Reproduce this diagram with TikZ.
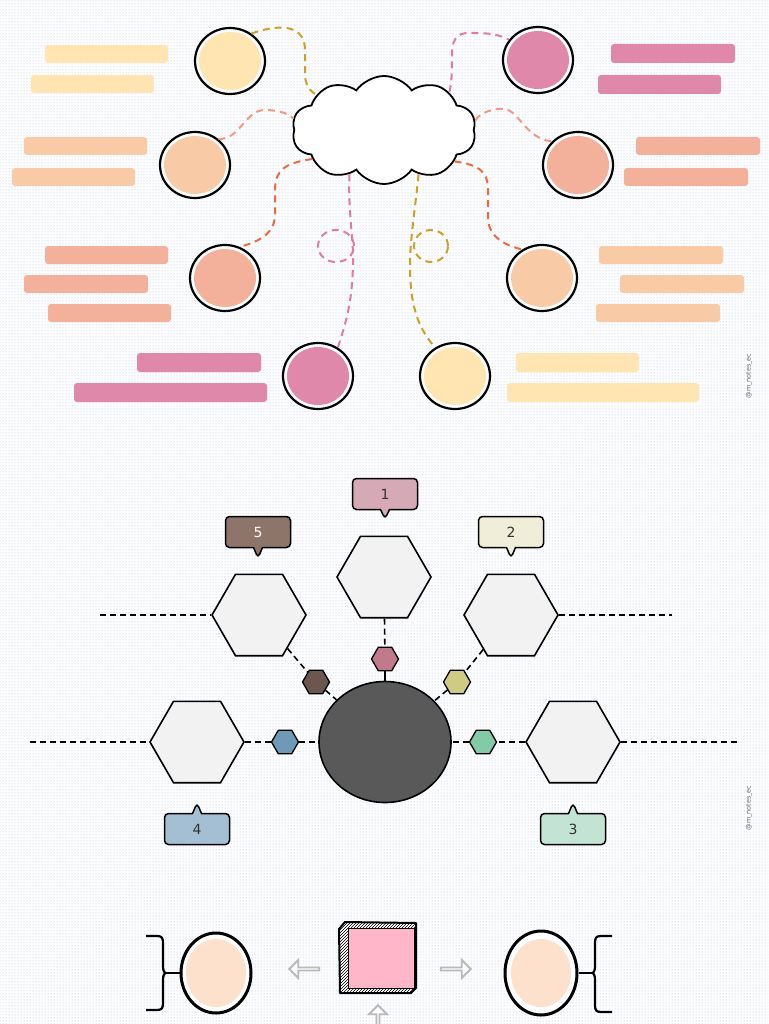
\documentclass[tikz,border=0pt]{standalone}
\usepackage{fontspec}
\setmainfont{DejaVu Sans}
\usetikzlibrary{shapes.geometric,shapes.symbols,shapes.callouts,shapes.arrows,patterns}
\definecolor{cYel}{HTML}{FFE5B2}
\definecolor{cPea}{HTML}{F8CBA6}
\definecolor{cSal}{HTML}{F3B19C}
\definecolor{cPnk}{HTML}{E088A9}
\definecolor{lGold}{HTML}{CFA022}
\definecolor{lPea}{HTML}{F49A7C}
\definecolor{lOra}{HTML}{EE6A3C}
\definecolor{lPnk}{HTML}{E07BA3}
\definecolor{hexfill}{HTML}{F2F2F2}
\definecolor{ellfill}{HTML}{595959}
\definecolor{sPnk}{HTML}{C07A8C}
\definecolor{sBrn}{HTML}{6B5650}
\definecolor{sOli}{HTML}{CFCB82}
\definecolor{sBlu}{HTML}{6E9AB8}
\definecolor{sGrn}{HTML}{82CBA6}
\definecolor{k1c}{HTML}{D5A9B6}
\definecolor{k2c}{HTML}{F0EED8}
\definecolor{k3c}{HTML}{C3E4D5}
\definecolor{k4c}{HTML}{A4BFD3}
\definecolor{k5c}{HTML}{8E7569}
\definecolor{txt}{HTML}{333333}
\definecolor{bPeach}{HTML}{FDE1CC}
\definecolor{boxPink}{HTML}{FFB6C8}
\definecolor{dotcol}{HTML}{A9BAE6}
\begin{document}
\begin{tikzpicture}[x=1pt,y=-1pt,
  bar/.style={rounded corners=3pt},
  blob/.style={ellipse, draw=black, line width=2.2pt, fill=white, minimum width=70pt, minimum height=66pt, inner sep=0pt,
    path picture={\fill[#1] (path picture bounding box.center) ellipse (31pt and 29pt);}},
  bblob/.style={ellipse, draw=black, line width=3pt, fill=white, inner sep=0pt,
    path picture={\fill[#1] (path picture bounding box.center) ellipse (30pt and 34pt);}},
  cdash/.style={line width=2pt, dash pattern=on 7pt off 5pt},
  dsh/.style={line width=1.6pt, dash pattern=on 6pt off 4pt},
  hex/.style={regular polygon, regular polygon sides=6, draw, line width=1.6pt, fill=hexfill, minimum size=94pt, inner sep=0pt},
  shex/.style={regular polygon, regular polygon sides=6, draw, line width=1.3pt, fill=#1, minimum size=27pt, inner sep=0pt},
  callbox/.style={rectangle callout, draw, line width=1.5pt, rounded corners=4pt, fill=#1, minimum width=65pt, minimum height=31pt, callout pointer width=9pt, font=\fontsize{14}{16}\selectfont, text=txt, inner sep=0pt},
  garrow/.style={single arrow, draw=gray!55, line width=1.8pt, fill=white, minimum height=30pt, minimum width=18pt, single arrow head extend=4.5pt, inner sep=0pt},
  wmark/.style={rotate=90, font=\fontsize{6.5}{7}\selectfont, text=gray!80!black}
]
\useasboundingbox (0,0) rectangle (768,1024);
\fill[white] (0,0) rectangle (768,1024);
\fill[pattern=dots, pattern color=dotcol] (0,0) rectangle (768,1024);

% ---------- top section: bars ----------
\fill[bar,cYel] (45,45) rectangle (168,63);
\fill[bar,cYel] (31,75) rectangle (154,93);
\fill[bar,cPea] (24,137) rectangle (147,155);
\fill[bar,cPea] (12,168) rectangle (135,186);
\fill[bar,cSal] (45,246) rectangle (168,264);
\fill[bar,cSal] (24,275) rectangle (148,293);
\fill[bar,cSal] (48,304) rectangle (171,322);
\fill[bar,cPnk] (137,353) rectangle (261,372);
\fill[bar,cPnk] (74,383) rectangle (267,402);
\fill[bar,cPnk] (611,44) rectangle (735,63);
\fill[bar,cPnk] (598,75) rectangle (721,94);
\fill[bar,cSal] (636,137) rectangle (760,155);
\fill[bar,cSal] (624,168) rectangle (748,186);
\fill[bar,cPea] (599,246) rectangle (723,264);
\fill[bar,cPea] (620,275) rectangle (744,293);
\fill[bar,cPea] (596,304) rectangle (720,322);
\fill[bar,cYel] (516,353) rectangle (639,372);
\fill[bar,cYel] (507,383) rectangle (699,402);

% cloud
\node[cloud, cloud puffs=10, cloud puff arc=110, aspect=1.7, draw, line width=1.8pt, fill=white, minimum width=184pt, minimum height=108pt, inner sep=0pt] (cl) at (384,130) {};

% circles
\node[blob=cYel] (c1) at (230,61) {};
\node[blob=cPea] (c2) at (195,165) {};
\node[blob=cSal] (c3) at (225,278) {};
\node[blob=cPnk] (c4) at (318,376) {};
\node[blob=cPnk] (c5) at (538,60) {};
\node[blob=cSal] (c6) at (578,165) {};
\node[blob=cPea] (c7) at (542,278) {};
\node[blob=cYel] (c8) at (455,376) {};

% dashed connectors
\draw[cdash,lGold] (c1.52) .. controls (275,25) and (305,22) .. (305,50) -- (305,75) .. controls (305,90) and (318,97) .. (cl.151);
\draw[cdash,lPea] (c2.48) .. controls (240,140) and (245,110) .. (265,110) .. controls (280,110) and (292,115) .. (cl.173);
\draw[cdash,lOra] (cl.202) .. controls (285,163) and (275,170) .. (275,190) -- (275,215) .. controls (275,235) and (255,243) .. (c3.65);
\draw[cdash,lPnk] (cl.232) .. controls (348,215) and (354,240) .. (353,265) .. controls (352,305) and (345,325) .. (c4.55);
\draw[cdash,lPnk] (336,246) ellipse (18pt and 16pt);
\draw[cdash,lPnk] (cl.30) .. controls (452,80) and (452,70) .. (452,55) .. controls (452,35) and (460,32) .. (475,33) .. controls (490,33) and (500,35) .. (c5.145);
\draw[cdash,lPea] (cl.6) .. controls (480,112) and (495,108) .. (505,109) .. controls (520,112) and (525,138) .. (c6.138);
\draw[cdash,lOra] (cl.336) .. controls (480,165) and (488,172) .. (488,190) -- (488,220) .. controls (490,238) and (505,245) .. (c7.125);
\draw[cdash,lGold] (cl.308) .. controls (415,210) and (410,240) .. (410,265) .. controls (410,310) and (420,330) .. (c8.125);
\draw[cdash,lGold] (431,246) ellipse (17pt and 16pt);

\node[wmark] (wm1) at (749,376) {@m\_notes\_ec};

% ---------- middle section ----------
\node[hex] (h1) at (384,577) {};
\node[hex] (h5) at (259,615) {};
\node[hex] (h2) at (511,615) {};
\node[hex] (h4) at (197,742) {};
\node[hex] (h3) at (573,742) {};
\node[ellipse, draw, line width=1.6pt, fill=ellfill, minimum width=132pt, minimum height=121pt, inner sep=0pt] (ell) at (385,742) {};
\node[shex=sPnk] (s1) at (385,659) {};
\node[shex=sBrn] (s5) at (316,682) {};
\node[shex=sOli] (s2) at (457,682) {};
\node[shex=sBlu] (s4) at (285,742) {};
\node[shex=sGrn] (s3) at (483,742) {};

\coordinate (e5) at (100,615);
\coordinate (e2) at (672,615);
\coordinate (e4) at (30,742);
\coordinate (e3) at (740,742);
\draw[dsh] (e5) -- (h5.west);
\draw[dsh] (h2.east) -- (e2);
\draw[dsh] (e4) -- (h4.west);
\draw[dsh] (h3.east) -- (e3);

\draw[dsh] (h1) -- (s1);
\draw[line width=1.6pt] (s1) -- (ell);
\draw[dsh] (h5) -- (s5);
\draw[dsh] (s5) -- (ell);
\draw[dsh] (h2) -- (s2);
\draw[dsh] (s2) -- (ell);
\draw[dsh] (h4) -- (s4);
\draw[dsh] (s4) -- (ell);
\draw[dsh] (h3) -- (s3);
\draw[dsh] (s3) -- (ell);

\node[callbox=k1c, callout absolute pointer={(385,519)}] (k1) at (385,494) {1};
\node[callbox=k5c, text=white, callout absolute pointer={(258,558)}] (k5) at (258,532) {5};
\node[callbox=k2c, callout absolute pointer={(511,558)}] (k2) at (511,532) {2};
\node[callbox=k4c, callout absolute pointer={(197,803)}] (k4) at (197,829) {4};
\node[callbox=k3c, callout absolute pointer={(573,803)}] (k3) at (573,829) {3};

\node[wmark] (wm2) at (749,808) {@m\_notes\_ec};

% ---------- bottom section ----------
\node[bblob=bPeach, minimum width=70pt, minimum height=80pt] (b1) at (216,973) {};
\node[bblob=bPeach, minimum width=72pt, minimum height=84pt] (b2) at (541,973) {};

\coordinate (t1) at (166,973);
\coordinate (t2) at (592,973);
\draw[line width=2.2pt, line join=round] (146,936) -- (157,936) .. controls (162,936) and (163,938) .. (163,943) -- (163,966) .. controls (163,970) and (164,973) .. (t1)
  .. controls (164,973) and (163,976) .. (163,980) -- (163,1003) .. controls (163,1008) and (162,1010) .. (157,1010) -- (146,1010);
\draw[line width=2.2pt] (t1) -- (b1);
\draw[line width=2.2pt, line join=round] (612,936) -- (601,936) .. controls (596,936) and (595,938) .. (595,943) -- (595,966) .. controls (595,970) and (594,973) .. (t2)
  .. controls (594,973) and (595,976) .. (595,980) -- (595,1005) .. controls (595,1010) and (596,1012) .. (601,1012) -- (612,1012);
\draw[line width=2.2pt] (t2) -- (b2);

% 3D box
\fill[white] (339,929) -- (345,922) -- (416,923) -- (416,988) -- (411,993) -- (340,993) -- cycle;
\fill[pattern=north east lines] (339,929) -- (345,922) -- (416,923) -- (416,988) -- (411,993) -- (340,993) -- cycle;
\node[draw, line width=1pt, fill=boxPink, minimum width=66pt, minimum height=60pt, inner sep=0pt] (bx) at (381,958) {};
\draw[line width=2pt, line join=round] (339,929) -- (345,922) -- (416,923) -- (416,988) -- (411,993) -- (340,993) -- cycle;

\node[garrow, shape border rotate=180] (al) at (305,969) {};
\node[garrow] (ar) at (455,969) {};
\node[garrow, shape border rotate=90] (au) at (378,1021) {};
\end{tikzpicture}
\end{document}
